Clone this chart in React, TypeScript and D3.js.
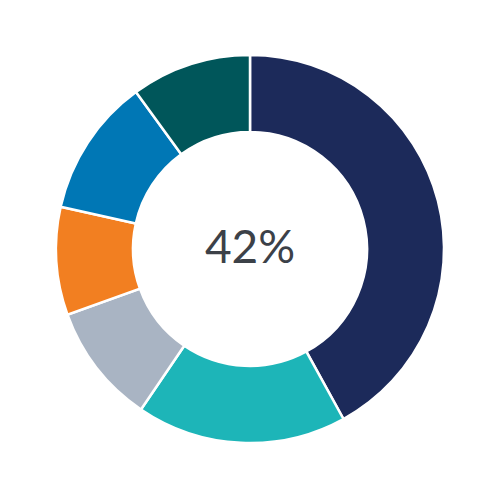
import * as d3 from "d3";

const categories = ["A", "B", "C", "D", "E", "F"];
const values = [42, 17.5, 10, 9, 11.5, 10];
const colors = ["#1c2a5a", "#1db5b8", "#a9b4c3", "#f27f21", "#0077b5", "#00565a"];
const centerLabel = "42%";

const W = 500;
const H = 500;
const cx = 250;
const cy = 249;
const outerR = 194;
const innerR = 117;

const App = () => {
  const pie = d3
    .pie<number>()
    .sort(null)
    .value((d) => d);
  const arcs = pie(values);
  const arc = d3.arc<d3.PieArcDatum<number>>().innerRadius(innerR).outerRadius(outerR);

  return (
    <svg
      width={W}
      height={H}
      style={{ position: "absolute", left: 0, top: 0, background: "#fff" }}
    >
      <g transform={`translate(${cx},${cy})`}>
        {arcs.map((a, i) => (
          <path
            key={categories[i]}
            d={arc(a) || ""}
            fill={colors[i]}
            stroke="#fff"
            strokeWidth={2.5}
          />
        ))}
        <text
          x={0}
          y={14}
          textAnchor="middle"
          fontFamily="Lato, sans-serif"
          fontSize={46}
          fill="#3c4148"
        >
          {centerLabel}
        </text>
      </g>
    </svg>
  );
};

export default App;
